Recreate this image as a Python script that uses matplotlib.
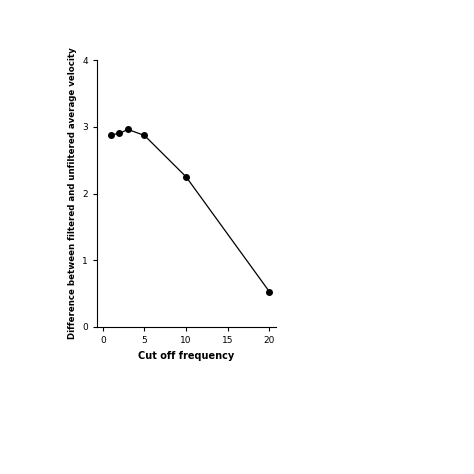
import matplotlib
matplotlib.use("Agg")
import matplotlib.pyplot as plt

cutoff = [1, 2, 3, 5, 10, 20]
difference = [2.88, 2.90, 2.96, 2.87, 2.25, 0.53]

fig = plt.figure(figsize=(4.74, 4.74), dpi=100)
ax = fig.add_axes([97 / 474, 1 - 327 / 474, 179 / 474, 267 / 474])

ax.plot(cutoff, difference, color="black", linewidth=0.9)
ax.plot(cutoff, difference, "o", color="black", markersize=4)

ax.set_xlim(-0.7, 20.8)
ax.set_ylim(0, 4)
ax.set_xticks([0, 5, 10, 15, 20])
ax.set_yticks([0, 1, 2, 3, 4])
ax.tick_params(direction="out", length=3, labelsize=6.5, width=0.8)
for side in ["top", "right"]:
    ax.spines[side].set_visible(False)
ax.set_xlabel("Cut off frequency", fontsize=7, fontweight="bold")
ax.set_ylabel("Difference between filtered and unfiltered average velocity",
              fontsize=6.2, fontweight="bold")

fig.savefig("out.png", dpi=100)
